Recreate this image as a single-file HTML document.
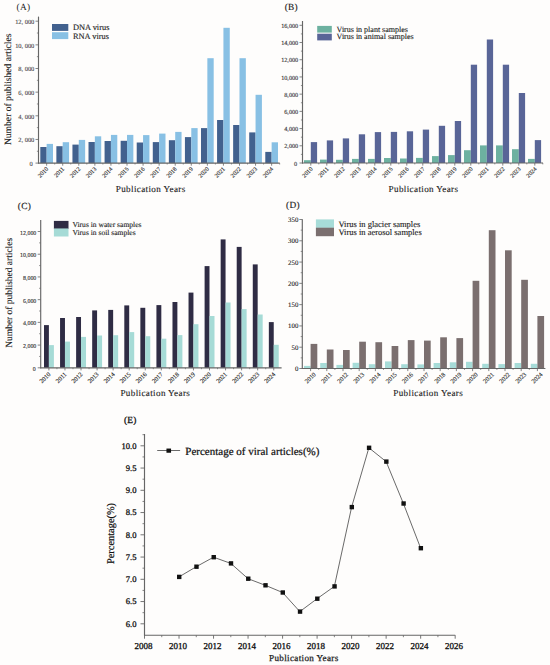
<!DOCTYPE html>
<html><head><meta charset="utf-8"><style>
html,body{margin:0;padding:0;background:#fefdfc;}
body{width:550px;height:665px;overflow:hidden;}
svg{display:block;font-family:"Liberation Serif", serif;}
text{text-rendering:geometricPrecision;}
</style></head><body>
<svg width="550" height="665" viewBox="0 0 550 665">
<rect width="550" height="665" fill="#fefdfc"/>
<rect x="40.30" y="147.00" width="6.35" height="16.10" fill="#42618e"/>
<rect x="46.65" y="143.90" width="6.35" height="19.20" fill="#88c0e4"/>
<rect x="56.37" y="146.20" width="6.35" height="16.90" fill="#42618e"/>
<rect x="62.72" y="142.20" width="6.35" height="20.90" fill="#88c0e4"/>
<rect x="72.44" y="144.60" width="6.35" height="18.50" fill="#42618e"/>
<rect x="78.79" y="139.90" width="6.35" height="23.20" fill="#88c0e4"/>
<rect x="88.51" y="142.00" width="6.35" height="21.10" fill="#42618e"/>
<rect x="94.86" y="136.30" width="6.35" height="26.80" fill="#88c0e4"/>
<rect x="104.58" y="141.00" width="6.35" height="22.10" fill="#42618e"/>
<rect x="110.93" y="134.90" width="6.35" height="28.20" fill="#88c0e4"/>
<rect x="120.65" y="140.80" width="6.35" height="22.30" fill="#42618e"/>
<rect x="127.00" y="134.90" width="6.35" height="28.20" fill="#88c0e4"/>
<rect x="136.72" y="142.50" width="6.35" height="20.60" fill="#42618e"/>
<rect x="143.07" y="135.10" width="6.35" height="28.00" fill="#88c0e4"/>
<rect x="152.79" y="142.10" width="6.35" height="21.00" fill="#42618e"/>
<rect x="159.14" y="133.60" width="6.35" height="29.50" fill="#88c0e4"/>
<rect x="168.86" y="140.20" width="6.35" height="22.90" fill="#42618e"/>
<rect x="175.21" y="131.90" width="6.35" height="31.20" fill="#88c0e4"/>
<rect x="184.93" y="137.10" width="6.35" height="26.00" fill="#42618e"/>
<rect x="191.28" y="128.10" width="6.35" height="35.00" fill="#88c0e4"/>
<rect x="201.00" y="128.10" width="6.35" height="35.00" fill="#42618e"/>
<rect x="207.35" y="58.20" width="6.35" height="104.90" fill="#88c0e4"/>
<rect x="217.07" y="120.00" width="6.35" height="43.10" fill="#42618e"/>
<rect x="223.42" y="27.80" width="6.35" height="135.30" fill="#88c0e4"/>
<rect x="233.14" y="125.00" width="6.35" height="38.10" fill="#42618e"/>
<rect x="239.49" y="58.20" width="6.35" height="104.90" fill="#88c0e4"/>
<rect x="249.21" y="132.40" width="6.35" height="30.70" fill="#42618e"/>
<rect x="255.56" y="94.80" width="6.35" height="68.30" fill="#88c0e4"/>
<rect x="265.28" y="151.90" width="6.35" height="11.20" fill="#42618e"/>
<rect x="271.63" y="142.30" width="6.35" height="20.80" fill="#88c0e4"/>
<line x1="38.50" y1="16.60" x2="38.50" y2="163.60" stroke="#666666" stroke-width="1.15"/>
<line x1="38.00" y1="163.10" x2="279.70" y2="163.10" stroke="#666666" stroke-width="1.15"/>
<line x1="35.50" y1="163.10" x2="38.50" y2="163.10" stroke="#666666" stroke-width="0.8"/>
<text x="32.70" y="166.10" font-size="6.4" fill="#4a4a4a" stroke="#4a4a4a" stroke-width="0.12" text-anchor="end" >0</text>
<line x1="35.50" y1="139.45" x2="38.50" y2="139.45" stroke="#666666" stroke-width="0.8"/>
<text x="34.30" y="142.15" font-size="6.4" fill="#4a4a4a" stroke="#4a4a4a" stroke-width="0.12" text-anchor="end" >2, 000</text>
<line x1="35.50" y1="115.80" x2="38.50" y2="115.80" stroke="#666666" stroke-width="0.8"/>
<text x="34.30" y="118.50" font-size="6.4" fill="#4a4a4a" stroke="#4a4a4a" stroke-width="0.12" text-anchor="end" >4, 000</text>
<line x1="35.50" y1="92.15" x2="38.50" y2="92.15" stroke="#666666" stroke-width="0.8"/>
<text x="34.30" y="94.85" font-size="6.4" fill="#4a4a4a" stroke="#4a4a4a" stroke-width="0.12" text-anchor="end" >6, 000</text>
<line x1="35.50" y1="68.50" x2="38.50" y2="68.50" stroke="#666666" stroke-width="0.8"/>
<text x="34.30" y="71.20" font-size="6.4" fill="#4a4a4a" stroke="#4a4a4a" stroke-width="0.12" text-anchor="end" >8, 000</text>
<line x1="35.50" y1="44.85" x2="38.50" y2="44.85" stroke="#666666" stroke-width="0.8"/>
<text x="34.30" y="47.55" font-size="6.4" fill="#4a4a4a" stroke="#4a4a4a" stroke-width="0.12" text-anchor="end" >10, 000</text>
<line x1="35.50" y1="21.20" x2="38.50" y2="21.20" stroke="#666666" stroke-width="0.8"/>
<text x="34.30" y="23.90" font-size="6.4" fill="#4a4a4a" stroke="#4a4a4a" stroke-width="0.12" text-anchor="end" >12, 000</text>
<line x1="36.90" y1="151.28" x2="38.50" y2="151.28" stroke="#666666" stroke-width="0.7"/>
<line x1="36.90" y1="127.62" x2="38.50" y2="127.62" stroke="#666666" stroke-width="0.7"/>
<line x1="36.90" y1="103.97" x2="38.50" y2="103.97" stroke="#666666" stroke-width="0.7"/>
<line x1="36.90" y1="80.32" x2="38.50" y2="80.32" stroke="#666666" stroke-width="0.7"/>
<line x1="36.90" y1="56.67" x2="38.50" y2="56.67" stroke="#666666" stroke-width="0.7"/>
<line x1="36.90" y1="33.02" x2="38.50" y2="33.02" stroke="#666666" stroke-width="0.7"/>
<line x1="46.65" y1="163.10" x2="46.65" y2="165.70" stroke="#666666" stroke-width="0.8"/>
<line x1="54.69" y1="163.10" x2="54.69" y2="164.50" stroke="#666666" stroke-width="0.7"/>
<text transform="translate(48.65,169.40) rotate(-45)" font-size="6.0" fill="#2a2a2a" stroke="#2a2a2a" stroke-width="0.12" text-anchor="end">2010</text>
<line x1="62.72" y1="163.10" x2="62.72" y2="165.70" stroke="#666666" stroke-width="0.8"/>
<line x1="70.75" y1="163.10" x2="70.75" y2="164.50" stroke="#666666" stroke-width="0.7"/>
<text transform="translate(64.72,169.40) rotate(-45)" font-size="6.0" fill="#2a2a2a" stroke="#2a2a2a" stroke-width="0.12" text-anchor="end">2011</text>
<line x1="78.79" y1="163.10" x2="78.79" y2="165.70" stroke="#666666" stroke-width="0.8"/>
<line x1="86.82" y1="163.10" x2="86.82" y2="164.50" stroke="#666666" stroke-width="0.7"/>
<text transform="translate(80.79,169.40) rotate(-45)" font-size="6.0" fill="#2a2a2a" stroke="#2a2a2a" stroke-width="0.12" text-anchor="end">2012</text>
<line x1="94.86" y1="163.10" x2="94.86" y2="165.70" stroke="#666666" stroke-width="0.8"/>
<line x1="102.89" y1="163.10" x2="102.89" y2="164.50" stroke="#666666" stroke-width="0.7"/>
<text transform="translate(96.86,169.40) rotate(-45)" font-size="6.0" fill="#2a2a2a" stroke="#2a2a2a" stroke-width="0.12" text-anchor="end">2013</text>
<line x1="110.93" y1="163.10" x2="110.93" y2="165.70" stroke="#666666" stroke-width="0.8"/>
<line x1="118.96" y1="163.10" x2="118.96" y2="164.50" stroke="#666666" stroke-width="0.7"/>
<text transform="translate(112.93,169.40) rotate(-45)" font-size="6.0" fill="#2a2a2a" stroke="#2a2a2a" stroke-width="0.12" text-anchor="end">2014</text>
<line x1="127.00" y1="163.10" x2="127.00" y2="165.70" stroke="#666666" stroke-width="0.8"/>
<line x1="135.03" y1="163.10" x2="135.03" y2="164.50" stroke="#666666" stroke-width="0.7"/>
<text transform="translate(129.00,169.40) rotate(-45)" font-size="6.0" fill="#2a2a2a" stroke="#2a2a2a" stroke-width="0.12" text-anchor="end">2015</text>
<line x1="143.07" y1="163.10" x2="143.07" y2="165.70" stroke="#666666" stroke-width="0.8"/>
<line x1="151.10" y1="163.10" x2="151.10" y2="164.50" stroke="#666666" stroke-width="0.7"/>
<text transform="translate(145.07,169.40) rotate(-45)" font-size="6.0" fill="#2a2a2a" stroke="#2a2a2a" stroke-width="0.12" text-anchor="end">2016</text>
<line x1="159.14" y1="163.10" x2="159.14" y2="165.70" stroke="#666666" stroke-width="0.8"/>
<line x1="167.18" y1="163.10" x2="167.18" y2="164.50" stroke="#666666" stroke-width="0.7"/>
<text transform="translate(161.14,169.40) rotate(-45)" font-size="6.0" fill="#2a2a2a" stroke="#2a2a2a" stroke-width="0.12" text-anchor="end">2017</text>
<line x1="175.21" y1="163.10" x2="175.21" y2="165.70" stroke="#666666" stroke-width="0.8"/>
<line x1="183.25" y1="163.10" x2="183.25" y2="164.50" stroke="#666666" stroke-width="0.7"/>
<text transform="translate(177.21,169.40) rotate(-45)" font-size="6.0" fill="#2a2a2a" stroke="#2a2a2a" stroke-width="0.12" text-anchor="end">2018</text>
<line x1="191.28" y1="163.10" x2="191.28" y2="165.70" stroke="#666666" stroke-width="0.8"/>
<line x1="199.31" y1="163.10" x2="199.31" y2="164.50" stroke="#666666" stroke-width="0.7"/>
<text transform="translate(193.28,169.40) rotate(-45)" font-size="6.0" fill="#2a2a2a" stroke="#2a2a2a" stroke-width="0.12" text-anchor="end">2019</text>
<line x1="207.35" y1="163.10" x2="207.35" y2="165.70" stroke="#666666" stroke-width="0.8"/>
<line x1="215.38" y1="163.10" x2="215.38" y2="164.50" stroke="#666666" stroke-width="0.7"/>
<text transform="translate(209.35,169.40) rotate(-45)" font-size="6.0" fill="#2a2a2a" stroke="#2a2a2a" stroke-width="0.12" text-anchor="end">2020</text>
<line x1="223.42" y1="163.10" x2="223.42" y2="165.70" stroke="#666666" stroke-width="0.8"/>
<line x1="231.45" y1="163.10" x2="231.45" y2="164.50" stroke="#666666" stroke-width="0.7"/>
<text transform="translate(225.42,169.40) rotate(-45)" font-size="6.0" fill="#2a2a2a" stroke="#2a2a2a" stroke-width="0.12" text-anchor="end">2021</text>
<line x1="239.49" y1="163.10" x2="239.49" y2="165.70" stroke="#666666" stroke-width="0.8"/>
<line x1="247.52" y1="163.10" x2="247.52" y2="164.50" stroke="#666666" stroke-width="0.7"/>
<text transform="translate(241.49,169.40) rotate(-45)" font-size="6.0" fill="#2a2a2a" stroke="#2a2a2a" stroke-width="0.12" text-anchor="end">2022</text>
<line x1="255.56" y1="163.10" x2="255.56" y2="165.70" stroke="#666666" stroke-width="0.8"/>
<line x1="263.59" y1="163.10" x2="263.59" y2="164.50" stroke="#666666" stroke-width="0.7"/>
<text transform="translate(257.56,169.40) rotate(-45)" font-size="6.0" fill="#2a2a2a" stroke="#2a2a2a" stroke-width="0.12" text-anchor="end">2023</text>
<line x1="271.63" y1="163.10" x2="271.63" y2="165.70" stroke="#666666" stroke-width="0.8"/>
<line x1="279.67" y1="163.10" x2="279.67" y2="164.50" stroke="#666666" stroke-width="0.7"/>
<text transform="translate(273.63,169.40) rotate(-45)" font-size="6.0" fill="#2a2a2a" stroke="#2a2a2a" stroke-width="0.12" text-anchor="end">2024</text>
<text x="150.70" y="192.00" font-size="9.1" fill="#222" stroke="#222" stroke-width="0.12" text-anchor="middle" letter-spacing="0.36">Publication Years</text>
<text transform="translate(11.30,89.30) rotate(-90)" font-size="9.6" fill="#222" stroke="#222" stroke-width="0.12" text-anchor="middle">Number of published articles</text>
<text x="16.50" y="9.90" font-size="9.3" fill="#1a1a1a" text-anchor="start" letter-spacing="0.3">(A)</text>
<rect x="52.00" y="24.00" width="16.30" height="6.90" fill="#42618e"/>
<rect x="52.00" y="32.20" width="16.30" height="6.90" fill="#88c0e4"/>
<text x="72.90" y="30.30" font-size="8.4" fill="#222" stroke="#222" stroke-width="0.12" text-anchor="start" >DNA virus</text>
<text x="72.90" y="39.00" font-size="8.4" fill="#222" stroke="#222" stroke-width="0.12" text-anchor="start" >RNA virus</text>
<rect x="304.00" y="160.20" width="6.80" height="2.80" fill="#6db1a0"/>
<rect x="310.80" y="142.10" width="6.30" height="20.90" fill="#596597"/>
<rect x="320.00" y="159.60" width="6.80" height="3.40" fill="#6db1a0"/>
<rect x="326.80" y="140.40" width="6.30" height="22.60" fill="#596597"/>
<rect x="336.00" y="159.80" width="6.80" height="3.20" fill="#6db1a0"/>
<rect x="342.80" y="138.40" width="6.30" height="24.60" fill="#596597"/>
<rect x="352.00" y="158.90" width="6.80" height="4.10" fill="#6db1a0"/>
<rect x="358.80" y="134.30" width="6.30" height="28.70" fill="#596597"/>
<rect x="368.00" y="158.90" width="6.80" height="4.10" fill="#6db1a0"/>
<rect x="374.80" y="132.10" width="6.30" height="30.90" fill="#596597"/>
<rect x="384.00" y="158.00" width="6.80" height="5.00" fill="#6db1a0"/>
<rect x="390.80" y="131.90" width="6.30" height="31.10" fill="#596597"/>
<rect x="400.00" y="158.50" width="6.80" height="4.50" fill="#6db1a0"/>
<rect x="406.80" y="131.30" width="6.30" height="31.70" fill="#596597"/>
<rect x="416.00" y="157.90" width="6.80" height="5.10" fill="#6db1a0"/>
<rect x="422.80" y="129.60" width="6.30" height="33.40" fill="#596597"/>
<rect x="432.00" y="156.10" width="6.80" height="6.90" fill="#6db1a0"/>
<rect x="438.80" y="125.80" width="6.30" height="37.20" fill="#596597"/>
<rect x="448.00" y="155.10" width="6.80" height="7.90" fill="#6db1a0"/>
<rect x="454.80" y="121.00" width="6.30" height="42.00" fill="#596597"/>
<rect x="464.00" y="150.20" width="6.80" height="12.80" fill="#6db1a0"/>
<rect x="470.80" y="64.70" width="6.30" height="98.30" fill="#596597"/>
<rect x="480.00" y="145.40" width="6.80" height="17.60" fill="#6db1a0"/>
<rect x="486.80" y="39.50" width="6.30" height="123.50" fill="#596597"/>
<rect x="496.00" y="145.40" width="6.80" height="17.60" fill="#6db1a0"/>
<rect x="502.80" y="64.70" width="6.30" height="98.30" fill="#596597"/>
<rect x="512.00" y="149.20" width="6.80" height="13.80" fill="#6db1a0"/>
<rect x="518.80" y="93.00" width="6.30" height="70.00" fill="#596597"/>
<rect x="528.00" y="158.90" width="6.80" height="4.10" fill="#6db1a0"/>
<rect x="534.80" y="140.10" width="6.30" height="22.90" fill="#596597"/>
<line x1="302.50" y1="21.00" x2="302.50" y2="163.50" stroke="#666666" stroke-width="1.15"/>
<line x1="302.00" y1="163.00" x2="543.00" y2="163.00" stroke="#666666" stroke-width="1.15"/>
<line x1="299.50" y1="163.00" x2="302.50" y2="163.00" stroke="#666666" stroke-width="0.8"/>
<text x="297.20" y="166.00" font-size="6.2" fill="#333" stroke="#333" stroke-width="0.12" text-anchor="end" >0</text>
<line x1="299.50" y1="145.79" x2="302.50" y2="145.79" stroke="#666666" stroke-width="0.8"/>
<text x="298.20" y="148.49" font-size="6.2" fill="#333" stroke="#333" stroke-width="0.12" text-anchor="end" >2,000</text>
<line x1="299.50" y1="128.57" x2="302.50" y2="128.57" stroke="#666666" stroke-width="0.8"/>
<text x="298.20" y="131.27" font-size="6.2" fill="#333" stroke="#333" stroke-width="0.12" text-anchor="end" >4,000</text>
<line x1="299.50" y1="111.36" x2="302.50" y2="111.36" stroke="#666666" stroke-width="0.8"/>
<text x="298.20" y="114.06" font-size="6.2" fill="#333" stroke="#333" stroke-width="0.12" text-anchor="end" >6,000</text>
<line x1="299.50" y1="94.15" x2="302.50" y2="94.15" stroke="#666666" stroke-width="0.8"/>
<text x="298.20" y="96.85" font-size="6.2" fill="#333" stroke="#333" stroke-width="0.12" text-anchor="end" >8,000</text>
<line x1="299.50" y1="76.94" x2="302.50" y2="76.94" stroke="#666666" stroke-width="0.8"/>
<text x="298.20" y="79.64" font-size="6.2" fill="#333" stroke="#333" stroke-width="0.12" text-anchor="end" >10,000</text>
<line x1="299.50" y1="59.73" x2="302.50" y2="59.73" stroke="#666666" stroke-width="0.8"/>
<text x="298.20" y="62.43" font-size="6.2" fill="#333" stroke="#333" stroke-width="0.12" text-anchor="end" >12,000</text>
<line x1="299.50" y1="42.51" x2="302.50" y2="42.51" stroke="#666666" stroke-width="0.8"/>
<text x="298.20" y="45.21" font-size="6.2" fill="#333" stroke="#333" stroke-width="0.12" text-anchor="end" >14,000</text>
<line x1="299.50" y1="25.30" x2="302.50" y2="25.30" stroke="#666666" stroke-width="0.8"/>
<text x="298.20" y="28.00" font-size="6.2" fill="#333" stroke="#333" stroke-width="0.12" text-anchor="end" >16,000</text>
<line x1="300.90" y1="154.39" x2="302.50" y2="154.39" stroke="#666666" stroke-width="0.7"/>
<line x1="300.90" y1="137.18" x2="302.50" y2="137.18" stroke="#666666" stroke-width="0.7"/>
<line x1="300.90" y1="119.97" x2="302.50" y2="119.97" stroke="#666666" stroke-width="0.7"/>
<line x1="300.90" y1="102.76" x2="302.50" y2="102.76" stroke="#666666" stroke-width="0.7"/>
<line x1="300.90" y1="85.54" x2="302.50" y2="85.54" stroke="#666666" stroke-width="0.7"/>
<line x1="300.90" y1="68.33" x2="302.50" y2="68.33" stroke="#666666" stroke-width="0.7"/>
<line x1="300.90" y1="51.12" x2="302.50" y2="51.12" stroke="#666666" stroke-width="0.7"/>
<line x1="300.90" y1="33.91" x2="302.50" y2="33.91" stroke="#666666" stroke-width="0.7"/>
<line x1="310.80" y1="163.00" x2="310.80" y2="165.60" stroke="#666666" stroke-width="0.8"/>
<line x1="318.80" y1="163.00" x2="318.80" y2="164.40" stroke="#666666" stroke-width="0.7"/>
<text transform="translate(313.00,169.40) rotate(-45)" font-size="6.0" fill="#2a2a2a" stroke="#2a2a2a" stroke-width="0.12" text-anchor="end">2010</text>
<line x1="326.80" y1="163.00" x2="326.80" y2="165.60" stroke="#666666" stroke-width="0.8"/>
<line x1="334.80" y1="163.00" x2="334.80" y2="164.40" stroke="#666666" stroke-width="0.7"/>
<text transform="translate(329.00,169.40) rotate(-45)" font-size="6.0" fill="#2a2a2a" stroke="#2a2a2a" stroke-width="0.12" text-anchor="end">2011</text>
<line x1="342.80" y1="163.00" x2="342.80" y2="165.60" stroke="#666666" stroke-width="0.8"/>
<line x1="350.80" y1="163.00" x2="350.80" y2="164.40" stroke="#666666" stroke-width="0.7"/>
<text transform="translate(345.00,169.40) rotate(-45)" font-size="6.0" fill="#2a2a2a" stroke="#2a2a2a" stroke-width="0.12" text-anchor="end">2012</text>
<line x1="358.80" y1="163.00" x2="358.80" y2="165.60" stroke="#666666" stroke-width="0.8"/>
<line x1="366.80" y1="163.00" x2="366.80" y2="164.40" stroke="#666666" stroke-width="0.7"/>
<text transform="translate(361.00,169.40) rotate(-45)" font-size="6.0" fill="#2a2a2a" stroke="#2a2a2a" stroke-width="0.12" text-anchor="end">2013</text>
<line x1="374.80" y1="163.00" x2="374.80" y2="165.60" stroke="#666666" stroke-width="0.8"/>
<line x1="382.80" y1="163.00" x2="382.80" y2="164.40" stroke="#666666" stroke-width="0.7"/>
<text transform="translate(377.00,169.40) rotate(-45)" font-size="6.0" fill="#2a2a2a" stroke="#2a2a2a" stroke-width="0.12" text-anchor="end">2014</text>
<line x1="390.80" y1="163.00" x2="390.80" y2="165.60" stroke="#666666" stroke-width="0.8"/>
<line x1="398.80" y1="163.00" x2="398.80" y2="164.40" stroke="#666666" stroke-width="0.7"/>
<text transform="translate(393.00,169.40) rotate(-45)" font-size="6.0" fill="#2a2a2a" stroke="#2a2a2a" stroke-width="0.12" text-anchor="end">2015</text>
<line x1="406.80" y1="163.00" x2="406.80" y2="165.60" stroke="#666666" stroke-width="0.8"/>
<line x1="414.80" y1="163.00" x2="414.80" y2="164.40" stroke="#666666" stroke-width="0.7"/>
<text transform="translate(409.00,169.40) rotate(-45)" font-size="6.0" fill="#2a2a2a" stroke="#2a2a2a" stroke-width="0.12" text-anchor="end">2016</text>
<line x1="422.80" y1="163.00" x2="422.80" y2="165.60" stroke="#666666" stroke-width="0.8"/>
<line x1="430.80" y1="163.00" x2="430.80" y2="164.40" stroke="#666666" stroke-width="0.7"/>
<text transform="translate(425.00,169.40) rotate(-45)" font-size="6.0" fill="#2a2a2a" stroke="#2a2a2a" stroke-width="0.12" text-anchor="end">2017</text>
<line x1="438.80" y1="163.00" x2="438.80" y2="165.60" stroke="#666666" stroke-width="0.8"/>
<line x1="446.80" y1="163.00" x2="446.80" y2="164.40" stroke="#666666" stroke-width="0.7"/>
<text transform="translate(441.00,169.40) rotate(-45)" font-size="6.0" fill="#2a2a2a" stroke="#2a2a2a" stroke-width="0.12" text-anchor="end">2018</text>
<line x1="454.80" y1="163.00" x2="454.80" y2="165.60" stroke="#666666" stroke-width="0.8"/>
<line x1="462.80" y1="163.00" x2="462.80" y2="164.40" stroke="#666666" stroke-width="0.7"/>
<text transform="translate(457.00,169.40) rotate(-45)" font-size="6.0" fill="#2a2a2a" stroke="#2a2a2a" stroke-width="0.12" text-anchor="end">2019</text>
<line x1="470.80" y1="163.00" x2="470.80" y2="165.60" stroke="#666666" stroke-width="0.8"/>
<line x1="478.80" y1="163.00" x2="478.80" y2="164.40" stroke="#666666" stroke-width="0.7"/>
<text transform="translate(473.00,169.40) rotate(-45)" font-size="6.0" fill="#2a2a2a" stroke="#2a2a2a" stroke-width="0.12" text-anchor="end">2020</text>
<line x1="486.80" y1="163.00" x2="486.80" y2="165.60" stroke="#666666" stroke-width="0.8"/>
<line x1="494.80" y1="163.00" x2="494.80" y2="164.40" stroke="#666666" stroke-width="0.7"/>
<text transform="translate(489.00,169.40) rotate(-45)" font-size="6.0" fill="#2a2a2a" stroke="#2a2a2a" stroke-width="0.12" text-anchor="end">2021</text>
<line x1="502.80" y1="163.00" x2="502.80" y2="165.60" stroke="#666666" stroke-width="0.8"/>
<line x1="510.80" y1="163.00" x2="510.80" y2="164.40" stroke="#666666" stroke-width="0.7"/>
<text transform="translate(505.00,169.40) rotate(-45)" font-size="6.0" fill="#2a2a2a" stroke="#2a2a2a" stroke-width="0.12" text-anchor="end">2022</text>
<line x1="518.80" y1="163.00" x2="518.80" y2="165.60" stroke="#666666" stroke-width="0.8"/>
<line x1="526.80" y1="163.00" x2="526.80" y2="164.40" stroke="#666666" stroke-width="0.7"/>
<text transform="translate(521.00,169.40) rotate(-45)" font-size="6.0" fill="#2a2a2a" stroke="#2a2a2a" stroke-width="0.12" text-anchor="end">2023</text>
<line x1="534.80" y1="163.00" x2="534.80" y2="165.60" stroke="#666666" stroke-width="0.8"/>
<line x1="542.80" y1="163.00" x2="542.80" y2="164.40" stroke="#666666" stroke-width="0.7"/>
<text transform="translate(537.00,169.40) rotate(-45)" font-size="6.0" fill="#2a2a2a" stroke="#2a2a2a" stroke-width="0.12" text-anchor="end">2024</text>
<text x="423.50" y="192.00" font-size="9.1" fill="#222" stroke="#222" stroke-width="0.12" text-anchor="middle" letter-spacing="0.36">Publication Years</text>
<text x="284.70" y="9.90" font-size="9.3" fill="#1a1a1a" stroke="#1a1a1a" stroke-width="0.15" text-anchor="start" letter-spacing="0.3">(B)</text>
<rect x="317.20" y="25.90" width="14.60" height="6.70" fill="#6db1a0"/>
<rect x="317.20" y="33.70" width="14.60" height="6.70" fill="#596597"/>
<text x="336.60" y="32.00" font-size="8.0" fill="#222" stroke="#222" stroke-width="0.12" text-anchor="start" >Virus in plant samples</text>
<text x="336.60" y="39.20" font-size="8.0" fill="#222" stroke="#222" stroke-width="0.12" text-anchor="start" >Virus in animal samples</text>
<rect x="44.00" y="325.10" width="4.90" height="42.70" fill="#2f2c44"/>
<rect x="48.90" y="345.10" width="5.00" height="22.70" fill="#a6dbd6"/>
<rect x="60.06" y="318.00" width="4.90" height="49.80" fill="#2f2c44"/>
<rect x="64.96" y="341.60" width="5.00" height="26.20" fill="#a6dbd6"/>
<rect x="76.12" y="317.00" width="4.90" height="50.80" fill="#2f2c44"/>
<rect x="81.02" y="336.90" width="5.00" height="30.90" fill="#a6dbd6"/>
<rect x="92.18" y="310.40" width="4.90" height="57.40" fill="#2f2c44"/>
<rect x="97.08" y="335.50" width="5.00" height="32.30" fill="#a6dbd6"/>
<rect x="108.24" y="309.90" width="4.90" height="57.90" fill="#2f2c44"/>
<rect x="113.14" y="335.20" width="5.00" height="32.60" fill="#a6dbd6"/>
<rect x="124.30" y="305.40" width="4.90" height="62.40" fill="#2f2c44"/>
<rect x="129.20" y="332.10" width="5.00" height="35.70" fill="#a6dbd6"/>
<rect x="140.36" y="307.80" width="4.90" height="60.00" fill="#2f2c44"/>
<rect x="145.26" y="336.20" width="5.00" height="31.60" fill="#a6dbd6"/>
<rect x="156.42" y="305.10" width="4.90" height="62.70" fill="#2f2c44"/>
<rect x="161.32" y="338.70" width="5.00" height="29.10" fill="#a6dbd6"/>
<rect x="172.48" y="302.00" width="4.90" height="65.80" fill="#2f2c44"/>
<rect x="177.38" y="335.10" width="5.00" height="32.70" fill="#a6dbd6"/>
<rect x="188.54" y="292.60" width="4.90" height="75.20" fill="#2f2c44"/>
<rect x="193.44" y="324.20" width="5.00" height="43.60" fill="#a6dbd6"/>
<rect x="204.60" y="266.10" width="4.90" height="101.70" fill="#2f2c44"/>
<rect x="209.50" y="316.00" width="5.00" height="51.80" fill="#a6dbd6"/>
<rect x="220.66" y="239.40" width="4.90" height="128.40" fill="#2f2c44"/>
<rect x="225.56" y="302.50" width="5.00" height="65.30" fill="#a6dbd6"/>
<rect x="236.72" y="246.90" width="4.90" height="120.90" fill="#2f2c44"/>
<rect x="241.62" y="309.10" width="5.00" height="58.70" fill="#a6dbd6"/>
<rect x="252.78" y="264.40" width="4.90" height="103.40" fill="#2f2c44"/>
<rect x="257.68" y="314.50" width="5.00" height="53.30" fill="#a6dbd6"/>
<rect x="268.84" y="322.10" width="4.90" height="45.70" fill="#2f2c44"/>
<rect x="273.74" y="344.80" width="5.00" height="23.00" fill="#a6dbd6"/>
<line x1="40.70" y1="220.00" x2="40.70" y2="368.30" stroke="#666666" stroke-width="1.15"/>
<line x1="40.20" y1="367.80" x2="281.60" y2="367.80" stroke="#666666" stroke-width="1.15"/>
<line x1="37.70" y1="367.80" x2="40.70" y2="367.80" stroke="#666666" stroke-width="0.8"/>
<text x="35.60" y="371.00" font-size="5.9" fill="#333" stroke="#333" stroke-width="0.12" text-anchor="end" >0</text>
<line x1="37.70" y1="345.08" x2="40.70" y2="345.08" stroke="#666666" stroke-width="0.8"/>
<text x="36.30" y="348.08" font-size="5.9" fill="#333" stroke="#333" stroke-width="0.12" text-anchor="end" >2,000</text>
<line x1="37.70" y1="322.37" x2="40.70" y2="322.37" stroke="#666666" stroke-width="0.8"/>
<text x="36.30" y="325.37" font-size="5.9" fill="#333" stroke="#333" stroke-width="0.12" text-anchor="end" >4,000</text>
<line x1="37.70" y1="299.65" x2="40.70" y2="299.65" stroke="#666666" stroke-width="0.8"/>
<text x="36.30" y="302.65" font-size="5.9" fill="#333" stroke="#333" stroke-width="0.12" text-anchor="end" >6,000</text>
<line x1="37.70" y1="276.93" x2="40.70" y2="276.93" stroke="#666666" stroke-width="0.8"/>
<text x="36.30" y="279.93" font-size="5.9" fill="#333" stroke="#333" stroke-width="0.12" text-anchor="end" >8,000</text>
<line x1="37.70" y1="254.22" x2="40.70" y2="254.22" stroke="#666666" stroke-width="0.8"/>
<text x="36.30" y="257.22" font-size="5.9" fill="#333" stroke="#333" stroke-width="0.12" text-anchor="end" >10,000</text>
<line x1="37.70" y1="231.50" x2="40.70" y2="231.50" stroke="#666666" stroke-width="0.8"/>
<text x="36.30" y="234.50" font-size="5.9" fill="#333" stroke="#333" stroke-width="0.12" text-anchor="end" >12,000</text>
<line x1="39.10" y1="356.44" x2="40.70" y2="356.44" stroke="#666666" stroke-width="0.7"/>
<line x1="39.10" y1="333.73" x2="40.70" y2="333.73" stroke="#666666" stroke-width="0.7"/>
<line x1="39.10" y1="311.01" x2="40.70" y2="311.01" stroke="#666666" stroke-width="0.7"/>
<line x1="39.10" y1="288.29" x2="40.70" y2="288.29" stroke="#666666" stroke-width="0.7"/>
<line x1="39.10" y1="265.57" x2="40.70" y2="265.57" stroke="#666666" stroke-width="0.7"/>
<line x1="39.10" y1="242.86" x2="40.70" y2="242.86" stroke="#666666" stroke-width="0.7"/>
<line x1="48.90" y1="367.80" x2="48.90" y2="370.40" stroke="#666666" stroke-width="0.8"/>
<line x1="56.93" y1="367.80" x2="56.93" y2="369.20" stroke="#666666" stroke-width="0.7"/>
<text transform="translate(50.90,374.70) rotate(-45)" font-size="6.3" fill="#222" stroke="#222" stroke-width="0.12" text-anchor="end">2010</text>
<line x1="64.96" y1="367.80" x2="64.96" y2="370.40" stroke="#666666" stroke-width="0.8"/>
<line x1="72.99" y1="367.80" x2="72.99" y2="369.20" stroke="#666666" stroke-width="0.7"/>
<text transform="translate(66.96,374.70) rotate(-45)" font-size="6.3" fill="#222" stroke="#222" stroke-width="0.12" text-anchor="end">2011</text>
<line x1="81.02" y1="367.80" x2="81.02" y2="370.40" stroke="#666666" stroke-width="0.8"/>
<line x1="89.05" y1="367.80" x2="89.05" y2="369.20" stroke="#666666" stroke-width="0.7"/>
<text transform="translate(83.02,374.70) rotate(-45)" font-size="6.3" fill="#222" stroke="#222" stroke-width="0.12" text-anchor="end">2012</text>
<line x1="97.08" y1="367.80" x2="97.08" y2="370.40" stroke="#666666" stroke-width="0.8"/>
<line x1="105.11" y1="367.80" x2="105.11" y2="369.20" stroke="#666666" stroke-width="0.7"/>
<text transform="translate(99.08,374.70) rotate(-45)" font-size="6.3" fill="#222" stroke="#222" stroke-width="0.12" text-anchor="end">2013</text>
<line x1="113.14" y1="367.80" x2="113.14" y2="370.40" stroke="#666666" stroke-width="0.8"/>
<line x1="121.17" y1="367.80" x2="121.17" y2="369.20" stroke="#666666" stroke-width="0.7"/>
<text transform="translate(115.14,374.70) rotate(-45)" font-size="6.3" fill="#222" stroke="#222" stroke-width="0.12" text-anchor="end">2014</text>
<line x1="129.20" y1="367.80" x2="129.20" y2="370.40" stroke="#666666" stroke-width="0.8"/>
<line x1="137.23" y1="367.80" x2="137.23" y2="369.20" stroke="#666666" stroke-width="0.7"/>
<text transform="translate(131.20,374.70) rotate(-45)" font-size="6.3" fill="#222" stroke="#222" stroke-width="0.12" text-anchor="end">2015</text>
<line x1="145.26" y1="367.80" x2="145.26" y2="370.40" stroke="#666666" stroke-width="0.8"/>
<line x1="153.29" y1="367.80" x2="153.29" y2="369.20" stroke="#666666" stroke-width="0.7"/>
<text transform="translate(147.26,374.70) rotate(-45)" font-size="6.3" fill="#222" stroke="#222" stroke-width="0.12" text-anchor="end">2016</text>
<line x1="161.32" y1="367.80" x2="161.32" y2="370.40" stroke="#666666" stroke-width="0.8"/>
<line x1="169.35" y1="367.80" x2="169.35" y2="369.20" stroke="#666666" stroke-width="0.7"/>
<text transform="translate(163.32,374.70) rotate(-45)" font-size="6.3" fill="#222" stroke="#222" stroke-width="0.12" text-anchor="end">2017</text>
<line x1="177.38" y1="367.80" x2="177.38" y2="370.40" stroke="#666666" stroke-width="0.8"/>
<line x1="185.41" y1="367.80" x2="185.41" y2="369.20" stroke="#666666" stroke-width="0.7"/>
<text transform="translate(179.38,374.70) rotate(-45)" font-size="6.3" fill="#222" stroke="#222" stroke-width="0.12" text-anchor="end">2018</text>
<line x1="193.44" y1="367.80" x2="193.44" y2="370.40" stroke="#666666" stroke-width="0.8"/>
<line x1="201.47" y1="367.80" x2="201.47" y2="369.20" stroke="#666666" stroke-width="0.7"/>
<text transform="translate(195.44,374.70) rotate(-45)" font-size="6.3" fill="#222" stroke="#222" stroke-width="0.12" text-anchor="end">2019</text>
<line x1="209.50" y1="367.80" x2="209.50" y2="370.40" stroke="#666666" stroke-width="0.8"/>
<line x1="217.53" y1="367.80" x2="217.53" y2="369.20" stroke="#666666" stroke-width="0.7"/>
<text transform="translate(211.50,374.70) rotate(-45)" font-size="6.3" fill="#222" stroke="#222" stroke-width="0.12" text-anchor="end">2020</text>
<line x1="225.56" y1="367.80" x2="225.56" y2="370.40" stroke="#666666" stroke-width="0.8"/>
<line x1="233.59" y1="367.80" x2="233.59" y2="369.20" stroke="#666666" stroke-width="0.7"/>
<text transform="translate(227.56,374.70) rotate(-45)" font-size="6.3" fill="#222" stroke="#222" stroke-width="0.12" text-anchor="end">2021</text>
<line x1="241.62" y1="367.80" x2="241.62" y2="370.40" stroke="#666666" stroke-width="0.8"/>
<line x1="249.65" y1="367.80" x2="249.65" y2="369.20" stroke="#666666" stroke-width="0.7"/>
<text transform="translate(243.62,374.70) rotate(-45)" font-size="6.3" fill="#222" stroke="#222" stroke-width="0.12" text-anchor="end">2022</text>
<line x1="257.68" y1="367.80" x2="257.68" y2="370.40" stroke="#666666" stroke-width="0.8"/>
<line x1="265.71" y1="367.80" x2="265.71" y2="369.20" stroke="#666666" stroke-width="0.7"/>
<text transform="translate(259.68,374.70) rotate(-45)" font-size="6.3" fill="#222" stroke="#222" stroke-width="0.12" text-anchor="end">2023</text>
<line x1="273.74" y1="367.80" x2="273.74" y2="370.40" stroke="#666666" stroke-width="0.8"/>
<text transform="translate(275.74,374.70) rotate(-45)" font-size="6.3" fill="#222" stroke="#222" stroke-width="0.12" text-anchor="end">2024</text>
<text x="155.30" y="396.00" font-size="9.1" fill="#222" stroke="#222" stroke-width="0.12" text-anchor="middle" letter-spacing="0.36">Publication Years</text>
<text transform="translate(12.00,292.80) rotate(-90)" font-size="9.45" fill="#222" stroke="#222" stroke-width="0.12" text-anchor="middle">Number of published articles</text>
<text x="17.80" y="208.50" font-size="9.3" fill="#1a1a1a" stroke="#1a1a1a" stroke-width="0.15" text-anchor="start" letter-spacing="0.3">(C)</text>
<rect x="53.90" y="220.90" width="14.60" height="8.00" fill="#2f2c44"/>
<rect x="53.90" y="228.50" width="14.60" height="8.00" fill="#a6dbd6"/>
<text x="72.50" y="227.40" font-size="7.55" fill="#222" stroke="#222" stroke-width="0.12" text-anchor="start" >Virus in water samples</text>
<text x="72.50" y="235.30" font-size="7.55" fill="#222" stroke="#222" stroke-width="0.12" text-anchor="start" >Virus in soil samples</text>
<rect x="304.00" y="365.90" width="6.60" height="2.60" fill="#a7dcd8"/>
<rect x="310.60" y="343.90" width="6.70" height="24.60" fill="#7b6f6f"/>
<rect x="320.20" y="363.00" width="6.60" height="5.50" fill="#a7dcd8"/>
<rect x="326.80" y="349.50" width="6.70" height="19.00" fill="#7b6f6f"/>
<rect x="336.40" y="364.90" width="6.60" height="3.60" fill="#a7dcd8"/>
<rect x="343.00" y="350.00" width="6.70" height="18.50" fill="#7b6f6f"/>
<rect x="352.60" y="362.80" width="6.60" height="5.70" fill="#a7dcd8"/>
<rect x="359.20" y="341.70" width="6.70" height="26.80" fill="#7b6f6f"/>
<rect x="368.80" y="364.20" width="6.60" height="4.30" fill="#a7dcd8"/>
<rect x="375.40" y="342.20" width="6.70" height="26.30" fill="#7b6f6f"/>
<rect x="385.00" y="361.40" width="6.60" height="7.10" fill="#a7dcd8"/>
<rect x="391.60" y="346.00" width="6.70" height="22.50" fill="#7b6f6f"/>
<rect x="401.20" y="364.20" width="6.60" height="4.30" fill="#a7dcd8"/>
<rect x="407.80" y="340.10" width="6.70" height="28.40" fill="#7b6f6f"/>
<rect x="417.40" y="364.40" width="6.60" height="4.10" fill="#a7dcd8"/>
<rect x="424.00" y="340.60" width="6.70" height="27.90" fill="#7b6f6f"/>
<rect x="433.60" y="363.00" width="6.60" height="5.50" fill="#a7dcd8"/>
<rect x="440.20" y="337.30" width="6.70" height="31.20" fill="#7b6f6f"/>
<rect x="449.80" y="362.30" width="6.60" height="6.20" fill="#a7dcd8"/>
<rect x="456.40" y="338.10" width="6.70" height="30.40" fill="#7b6f6f"/>
<rect x="466.00" y="361.80" width="6.60" height="6.70" fill="#a7dcd8"/>
<rect x="472.60" y="280.80" width="6.70" height="87.70" fill="#7b6f6f"/>
<rect x="482.20" y="363.80" width="6.60" height="4.70" fill="#a7dcd8"/>
<rect x="488.80" y="230.20" width="6.70" height="138.30" fill="#7b6f6f"/>
<rect x="498.40" y="364.10" width="6.60" height="4.40" fill="#a7dcd8"/>
<rect x="505.00" y="250.30" width="6.70" height="118.20" fill="#7b6f6f"/>
<rect x="514.60" y="363.00" width="6.60" height="5.50" fill="#a7dcd8"/>
<rect x="521.20" y="279.80" width="6.70" height="88.70" fill="#7b6f6f"/>
<rect x="530.80" y="363.80" width="6.60" height="4.70" fill="#a7dcd8"/>
<rect x="537.40" y="316.00" width="6.70" height="52.50" fill="#7b6f6f"/>
<line x1="302.30" y1="219.30" x2="302.30" y2="369.00" stroke="#666666" stroke-width="1.15"/>
<line x1="301.80" y1="368.50" x2="545.40" y2="368.50" stroke="#666666" stroke-width="1.15"/>
<line x1="299.30" y1="368.50" x2="302.30" y2="368.50" stroke="#666666" stroke-width="0.8"/>
<text x="298.30" y="371.00" font-size="6.8" fill="#222" stroke="#222" stroke-width="0.12" text-anchor="end" >0</text>
<line x1="299.30" y1="347.21" x2="302.30" y2="347.21" stroke="#666666" stroke-width="0.8"/>
<text x="298.30" y="349.71" font-size="6.8" fill="#222" stroke="#222" stroke-width="0.12" text-anchor="end" >50</text>
<line x1="299.30" y1="325.93" x2="302.30" y2="325.93" stroke="#666666" stroke-width="0.8"/>
<text x="298.30" y="328.43" font-size="6.8" fill="#222" stroke="#222" stroke-width="0.12" text-anchor="end" >100</text>
<line x1="299.30" y1="304.64" x2="302.30" y2="304.64" stroke="#666666" stroke-width="0.8"/>
<text x="298.30" y="307.14" font-size="6.8" fill="#222" stroke="#222" stroke-width="0.12" text-anchor="end" >150</text>
<line x1="299.30" y1="283.36" x2="302.30" y2="283.36" stroke="#666666" stroke-width="0.8"/>
<text x="298.30" y="285.86" font-size="6.8" fill="#222" stroke="#222" stroke-width="0.12" text-anchor="end" >200</text>
<line x1="299.30" y1="262.07" x2="302.30" y2="262.07" stroke="#666666" stroke-width="0.8"/>
<text x="298.30" y="264.57" font-size="6.8" fill="#222" stroke="#222" stroke-width="0.12" text-anchor="end" >250</text>
<line x1="299.30" y1="240.79" x2="302.30" y2="240.79" stroke="#666666" stroke-width="0.8"/>
<text x="298.30" y="243.29" font-size="6.8" fill="#222" stroke="#222" stroke-width="0.12" text-anchor="end" >300</text>
<line x1="299.30" y1="219.50" x2="302.30" y2="219.50" stroke="#666666" stroke-width="0.8"/>
<text x="298.30" y="222.00" font-size="6.8" fill="#222" stroke="#222" stroke-width="0.12" text-anchor="end" >350</text>
<line x1="300.70" y1="357.86" x2="302.30" y2="357.86" stroke="#666666" stroke-width="0.7"/>
<line x1="300.70" y1="336.57" x2="302.30" y2="336.57" stroke="#666666" stroke-width="0.7"/>
<line x1="300.70" y1="315.29" x2="302.30" y2="315.29" stroke="#666666" stroke-width="0.7"/>
<line x1="300.70" y1="294.00" x2="302.30" y2="294.00" stroke="#666666" stroke-width="0.7"/>
<line x1="300.70" y1="272.71" x2="302.30" y2="272.71" stroke="#666666" stroke-width="0.7"/>
<line x1="300.70" y1="251.43" x2="302.30" y2="251.43" stroke="#666666" stroke-width="0.7"/>
<line x1="300.70" y1="230.14" x2="302.30" y2="230.14" stroke="#666666" stroke-width="0.7"/>
<line x1="310.60" y1="368.50" x2="310.60" y2="371.10" stroke="#666666" stroke-width="0.8"/>
<line x1="318.70" y1="368.50" x2="318.70" y2="369.90" stroke="#666666" stroke-width="0.7"/>
<text transform="translate(316.20,374.90) rotate(-45)" font-size="6.3" fill="#2a2a2a" stroke="#2a2a2a" stroke-width="0.12" text-anchor="end">2010</text>
<line x1="326.80" y1="368.50" x2="326.80" y2="371.10" stroke="#666666" stroke-width="0.8"/>
<line x1="334.90" y1="368.50" x2="334.90" y2="369.90" stroke="#666666" stroke-width="0.7"/>
<text transform="translate(332.40,374.90) rotate(-45)" font-size="6.3" fill="#2a2a2a" stroke="#2a2a2a" stroke-width="0.12" text-anchor="end">2011</text>
<line x1="343.00" y1="368.50" x2="343.00" y2="371.10" stroke="#666666" stroke-width="0.8"/>
<line x1="351.10" y1="368.50" x2="351.10" y2="369.90" stroke="#666666" stroke-width="0.7"/>
<text transform="translate(348.60,374.90) rotate(-45)" font-size="6.3" fill="#2a2a2a" stroke="#2a2a2a" stroke-width="0.12" text-anchor="end">2012</text>
<line x1="359.20" y1="368.50" x2="359.20" y2="371.10" stroke="#666666" stroke-width="0.8"/>
<line x1="367.30" y1="368.50" x2="367.30" y2="369.90" stroke="#666666" stroke-width="0.7"/>
<text transform="translate(364.80,374.90) rotate(-45)" font-size="6.3" fill="#2a2a2a" stroke="#2a2a2a" stroke-width="0.12" text-anchor="end">2013</text>
<line x1="375.40" y1="368.50" x2="375.40" y2="371.10" stroke="#666666" stroke-width="0.8"/>
<line x1="383.50" y1="368.50" x2="383.50" y2="369.90" stroke="#666666" stroke-width="0.7"/>
<text transform="translate(381.00,374.90) rotate(-45)" font-size="6.3" fill="#2a2a2a" stroke="#2a2a2a" stroke-width="0.12" text-anchor="end">2014</text>
<line x1="391.60" y1="368.50" x2="391.60" y2="371.10" stroke="#666666" stroke-width="0.8"/>
<line x1="399.70" y1="368.50" x2="399.70" y2="369.90" stroke="#666666" stroke-width="0.7"/>
<text transform="translate(397.20,374.90) rotate(-45)" font-size="6.3" fill="#2a2a2a" stroke="#2a2a2a" stroke-width="0.12" text-anchor="end">2015</text>
<line x1="407.80" y1="368.50" x2="407.80" y2="371.10" stroke="#666666" stroke-width="0.8"/>
<line x1="415.90" y1="368.50" x2="415.90" y2="369.90" stroke="#666666" stroke-width="0.7"/>
<text transform="translate(413.40,374.90) rotate(-45)" font-size="6.3" fill="#2a2a2a" stroke="#2a2a2a" stroke-width="0.12" text-anchor="end">2016</text>
<line x1="424.00" y1="368.50" x2="424.00" y2="371.10" stroke="#666666" stroke-width="0.8"/>
<line x1="432.10" y1="368.50" x2="432.10" y2="369.90" stroke="#666666" stroke-width="0.7"/>
<text transform="translate(429.60,374.90) rotate(-45)" font-size="6.3" fill="#2a2a2a" stroke="#2a2a2a" stroke-width="0.12" text-anchor="end">2017</text>
<line x1="440.20" y1="368.50" x2="440.20" y2="371.10" stroke="#666666" stroke-width="0.8"/>
<line x1="448.30" y1="368.50" x2="448.30" y2="369.90" stroke="#666666" stroke-width="0.7"/>
<text transform="translate(445.80,374.90) rotate(-45)" font-size="6.3" fill="#2a2a2a" stroke="#2a2a2a" stroke-width="0.12" text-anchor="end">2018</text>
<line x1="456.40" y1="368.50" x2="456.40" y2="371.10" stroke="#666666" stroke-width="0.8"/>
<line x1="464.50" y1="368.50" x2="464.50" y2="369.90" stroke="#666666" stroke-width="0.7"/>
<text transform="translate(462.00,374.90) rotate(-45)" font-size="6.3" fill="#2a2a2a" stroke="#2a2a2a" stroke-width="0.12" text-anchor="end">2019</text>
<line x1="472.60" y1="368.50" x2="472.60" y2="371.10" stroke="#666666" stroke-width="0.8"/>
<line x1="480.70" y1="368.50" x2="480.70" y2="369.90" stroke="#666666" stroke-width="0.7"/>
<text transform="translate(478.20,374.90) rotate(-45)" font-size="6.3" fill="#2a2a2a" stroke="#2a2a2a" stroke-width="0.12" text-anchor="end">2020</text>
<line x1="488.80" y1="368.50" x2="488.80" y2="371.10" stroke="#666666" stroke-width="0.8"/>
<line x1="496.90" y1="368.50" x2="496.90" y2="369.90" stroke="#666666" stroke-width="0.7"/>
<text transform="translate(494.40,374.90) rotate(-45)" font-size="6.3" fill="#2a2a2a" stroke="#2a2a2a" stroke-width="0.12" text-anchor="end">2021</text>
<line x1="505.00" y1="368.50" x2="505.00" y2="371.10" stroke="#666666" stroke-width="0.8"/>
<line x1="513.10" y1="368.50" x2="513.10" y2="369.90" stroke="#666666" stroke-width="0.7"/>
<text transform="translate(510.60,374.90) rotate(-45)" font-size="6.3" fill="#2a2a2a" stroke="#2a2a2a" stroke-width="0.12" text-anchor="end">2022</text>
<line x1="521.20" y1="368.50" x2="521.20" y2="371.10" stroke="#666666" stroke-width="0.8"/>
<line x1="529.30" y1="368.50" x2="529.30" y2="369.90" stroke="#666666" stroke-width="0.7"/>
<text transform="translate(526.80,374.90) rotate(-45)" font-size="6.3" fill="#2a2a2a" stroke="#2a2a2a" stroke-width="0.12" text-anchor="end">2023</text>
<line x1="537.40" y1="368.50" x2="537.40" y2="371.10" stroke="#666666" stroke-width="0.8"/>
<text transform="translate(543.00,374.90) rotate(-45)" font-size="6.3" fill="#2a2a2a" stroke="#2a2a2a" stroke-width="0.12" text-anchor="end">2024</text>
<text x="428.20" y="396.00" font-size="9.1" fill="#222" stroke="#222" stroke-width="0.12" text-anchor="middle" letter-spacing="0.36">Publication Years</text>
<text x="286.10" y="208.40" font-size="9.3" fill="#1a1a1a" stroke="#1a1a1a" stroke-width="0.15" text-anchor="start" letter-spacing="0.3">(D)</text>
<rect x="315.90" y="219.40" width="18.10" height="8.50" fill="#a7dcd8"/>
<rect x="315.90" y="227.70" width="18.10" height="8.50" fill="#7b6f6f"/>
<text x="338.40" y="227.00" font-size="8.5" fill="#222" stroke="#222" stroke-width="0.12" text-anchor="start" >Virus in glacier samples</text>
<text x="338.40" y="234.60" font-size="8.5" fill="#222" stroke="#222" stroke-width="0.12" text-anchor="start" >Virus in aerosol samples</text>
<line x1="144.50" y1="434.00" x2="144.50" y2="635.70" stroke="#666666" stroke-width="1.15"/>
<line x1="144.00" y1="635.20" x2="455.20" y2="635.20" stroke="#666666" stroke-width="1.15"/>
<line x1="140.50" y1="623.80" x2="144.50" y2="623.80" stroke="#666666" stroke-width="0.9"/>
<text x="136.50" y="626.70" font-size="8.6" fill="#111" stroke="#111" stroke-width="0.3" text-anchor="end" >6.0</text>
<line x1="140.50" y1="601.55" x2="144.50" y2="601.55" stroke="#666666" stroke-width="0.9"/>
<text x="136.50" y="604.45" font-size="8.6" fill="#111" stroke="#111" stroke-width="0.3" text-anchor="end" >6.5</text>
<line x1="140.50" y1="579.30" x2="144.50" y2="579.30" stroke="#666666" stroke-width="0.9"/>
<text x="136.50" y="582.20" font-size="8.6" fill="#111" stroke="#111" stroke-width="0.3" text-anchor="end" >7.0</text>
<line x1="140.50" y1="557.05" x2="144.50" y2="557.05" stroke="#666666" stroke-width="0.9"/>
<text x="136.50" y="559.95" font-size="8.6" fill="#111" stroke="#111" stroke-width="0.3" text-anchor="end" >7.5</text>
<line x1="140.50" y1="534.80" x2="144.50" y2="534.80" stroke="#666666" stroke-width="0.9"/>
<text x="136.50" y="537.70" font-size="8.6" fill="#111" stroke="#111" stroke-width="0.3" text-anchor="end" >8.0</text>
<line x1="140.50" y1="512.55" x2="144.50" y2="512.55" stroke="#666666" stroke-width="0.9"/>
<text x="136.50" y="515.45" font-size="8.6" fill="#111" stroke="#111" stroke-width="0.3" text-anchor="end" >8.5</text>
<line x1="140.50" y1="490.30" x2="144.50" y2="490.30" stroke="#666666" stroke-width="0.9"/>
<text x="136.50" y="493.20" font-size="8.6" fill="#111" stroke="#111" stroke-width="0.3" text-anchor="end" >9.0</text>
<line x1="140.50" y1="468.05" x2="144.50" y2="468.05" stroke="#666666" stroke-width="0.9"/>
<text x="136.50" y="470.95" font-size="8.6" fill="#111" stroke="#111" stroke-width="0.3" text-anchor="end" >9.5</text>
<line x1="140.50" y1="445.80" x2="144.50" y2="445.80" stroke="#666666" stroke-width="0.9"/>
<text x="136.50" y="448.70" font-size="8.6" fill="#111" stroke="#111" stroke-width="0.3" text-anchor="end" >10.0</text>
<line x1="142.50" y1="612.67" x2="144.50" y2="612.67" stroke="#666666" stroke-width="0.8"/>
<line x1="142.50" y1="590.42" x2="144.50" y2="590.42" stroke="#666666" stroke-width="0.8"/>
<line x1="142.50" y1="568.17" x2="144.50" y2="568.17" stroke="#666666" stroke-width="0.8"/>
<line x1="142.50" y1="545.92" x2="144.50" y2="545.92" stroke="#666666" stroke-width="0.8"/>
<line x1="142.50" y1="523.67" x2="144.50" y2="523.67" stroke="#666666" stroke-width="0.8"/>
<line x1="142.50" y1="501.43" x2="144.50" y2="501.43" stroke="#666666" stroke-width="0.8"/>
<line x1="142.50" y1="479.18" x2="144.50" y2="479.18" stroke="#666666" stroke-width="0.8"/>
<line x1="142.50" y1="456.93" x2="144.50" y2="456.93" stroke="#666666" stroke-width="0.8"/>
<line x1="142.50" y1="434.68" x2="144.50" y2="434.68" stroke="#666666" stroke-width="0.8"/>
<line x1="144.50" y1="635.20" x2="144.50" y2="638.70" stroke="#666666" stroke-width="0.9"/>
<text x="143.40" y="649.00" font-size="9.0" fill="#111" stroke="#111" stroke-width="0.3" text-anchor="middle" >2008</text>
<line x1="161.76" y1="635.20" x2="161.76" y2="637.20" stroke="#666666" stroke-width="0.8"/>
<line x1="179.02" y1="635.20" x2="179.02" y2="638.70" stroke="#666666" stroke-width="0.9"/>
<text x="177.92" y="649.00" font-size="9.0" fill="#111" stroke="#111" stroke-width="0.3" text-anchor="middle" >2010</text>
<line x1="196.28" y1="635.20" x2="196.28" y2="637.20" stroke="#666666" stroke-width="0.8"/>
<line x1="213.54" y1="635.20" x2="213.54" y2="638.70" stroke="#666666" stroke-width="0.9"/>
<text x="212.44" y="649.00" font-size="9.0" fill="#111" stroke="#111" stroke-width="0.3" text-anchor="middle" >2012</text>
<line x1="230.80" y1="635.20" x2="230.80" y2="637.20" stroke="#666666" stroke-width="0.8"/>
<line x1="248.06" y1="635.20" x2="248.06" y2="638.70" stroke="#666666" stroke-width="0.9"/>
<text x="246.96" y="649.00" font-size="9.0" fill="#111" stroke="#111" stroke-width="0.3" text-anchor="middle" >2014</text>
<line x1="265.32" y1="635.20" x2="265.32" y2="637.20" stroke="#666666" stroke-width="0.8"/>
<line x1="282.58" y1="635.20" x2="282.58" y2="638.70" stroke="#666666" stroke-width="0.9"/>
<text x="281.48" y="649.00" font-size="9.0" fill="#111" stroke="#111" stroke-width="0.3" text-anchor="middle" >2016</text>
<line x1="299.84" y1="635.20" x2="299.84" y2="637.20" stroke="#666666" stroke-width="0.8"/>
<line x1="317.10" y1="635.20" x2="317.10" y2="638.70" stroke="#666666" stroke-width="0.9"/>
<text x="316.00" y="649.00" font-size="9.0" fill="#111" stroke="#111" stroke-width="0.3" text-anchor="middle" >2018</text>
<line x1="334.36" y1="635.20" x2="334.36" y2="637.20" stroke="#666666" stroke-width="0.8"/>
<line x1="351.62" y1="635.20" x2="351.62" y2="638.70" stroke="#666666" stroke-width="0.9"/>
<text x="350.52" y="649.00" font-size="9.0" fill="#111" stroke="#111" stroke-width="0.3" text-anchor="middle" >2020</text>
<line x1="368.88" y1="635.20" x2="368.88" y2="637.20" stroke="#666666" stroke-width="0.8"/>
<line x1="386.14" y1="635.20" x2="386.14" y2="638.70" stroke="#666666" stroke-width="0.9"/>
<text x="385.04" y="649.00" font-size="9.0" fill="#111" stroke="#111" stroke-width="0.3" text-anchor="middle" >2022</text>
<line x1="403.40" y1="635.20" x2="403.40" y2="637.20" stroke="#666666" stroke-width="0.8"/>
<line x1="420.66" y1="635.20" x2="420.66" y2="638.70" stroke="#666666" stroke-width="0.9"/>
<text x="419.56" y="649.00" font-size="9.0" fill="#111" stroke="#111" stroke-width="0.3" text-anchor="middle" >2024</text>
<line x1="437.92" y1="635.20" x2="437.92" y2="637.20" stroke="#666666" stroke-width="0.8"/>
<line x1="455.18" y1="635.20" x2="455.18" y2="638.70" stroke="#666666" stroke-width="0.9"/>
<text x="454.08" y="649.00" font-size="9.0" fill="#111" stroke="#111" stroke-width="0.3" text-anchor="middle" >2026</text>
<polyline fill="none" stroke="#444" stroke-width="0.8" points="179.02,576.90 196.28,566.70 213.54,557.20 230.80,563.40 248.06,578.70 265.32,585.30 282.58,592.50 299.84,611.60 317.10,598.70 334.36,586.40 351.62,507.10 368.88,447.80 386.14,461.60 403.40,503.50 420.66,548.20"/>
<rect x="177.02" y="574.70" width="4.40" height="4.40" fill="#111"/>
<rect x="194.28" y="564.50" width="4.40" height="4.40" fill="#111"/>
<rect x="211.54" y="555.00" width="4.40" height="4.40" fill="#111"/>
<rect x="228.80" y="561.20" width="4.40" height="4.40" fill="#111"/>
<rect x="246.06" y="576.50" width="4.40" height="4.40" fill="#111"/>
<rect x="263.32" y="583.10" width="4.40" height="4.40" fill="#111"/>
<rect x="280.58" y="590.30" width="4.40" height="4.40" fill="#111"/>
<rect x="297.84" y="609.40" width="4.40" height="4.40" fill="#111"/>
<rect x="315.10" y="596.50" width="4.40" height="4.40" fill="#111"/>
<rect x="332.36" y="584.20" width="4.40" height="4.40" fill="#111"/>
<rect x="349.62" y="504.90" width="4.40" height="4.40" fill="#111"/>
<rect x="366.88" y="445.60" width="4.40" height="4.40" fill="#111"/>
<rect x="384.14" y="459.40" width="4.40" height="4.40" fill="#111"/>
<rect x="401.40" y="501.30" width="4.40" height="4.40" fill="#111"/>
<rect x="418.66" y="546.00" width="4.40" height="4.40" fill="#111"/>
<line x1="157.20" y1="450.50" x2="180.10" y2="450.50" stroke="#444" stroke-width="0.8"/>
<rect x="166.45" y="448.55" width="4.60" height="4.20" fill="#111"/>
<text x="185.30" y="455.40" font-size="11.0" fill="#111" stroke="#111" stroke-width="0.22" text-anchor="start" >Percentage of viral articles(%)</text>
<text x="303.80" y="661.00" font-size="9.1" fill="#222" stroke="#222" stroke-width="0.25" text-anchor="middle" letter-spacing="0.35">Publication Years</text>
<text transform="translate(113.7,533.5) rotate(-90)" font-size="10.4" fill="#111" stroke="#111" stroke-width="0.22" text-anchor="middle">Percentage(%)</text>
<text x="123.90" y="422.60" font-size="9.3" fill="#111" stroke="#111" stroke-width="0.3" text-anchor="start" letter-spacing="0.3">(E)</text>
</svg></body></html>
